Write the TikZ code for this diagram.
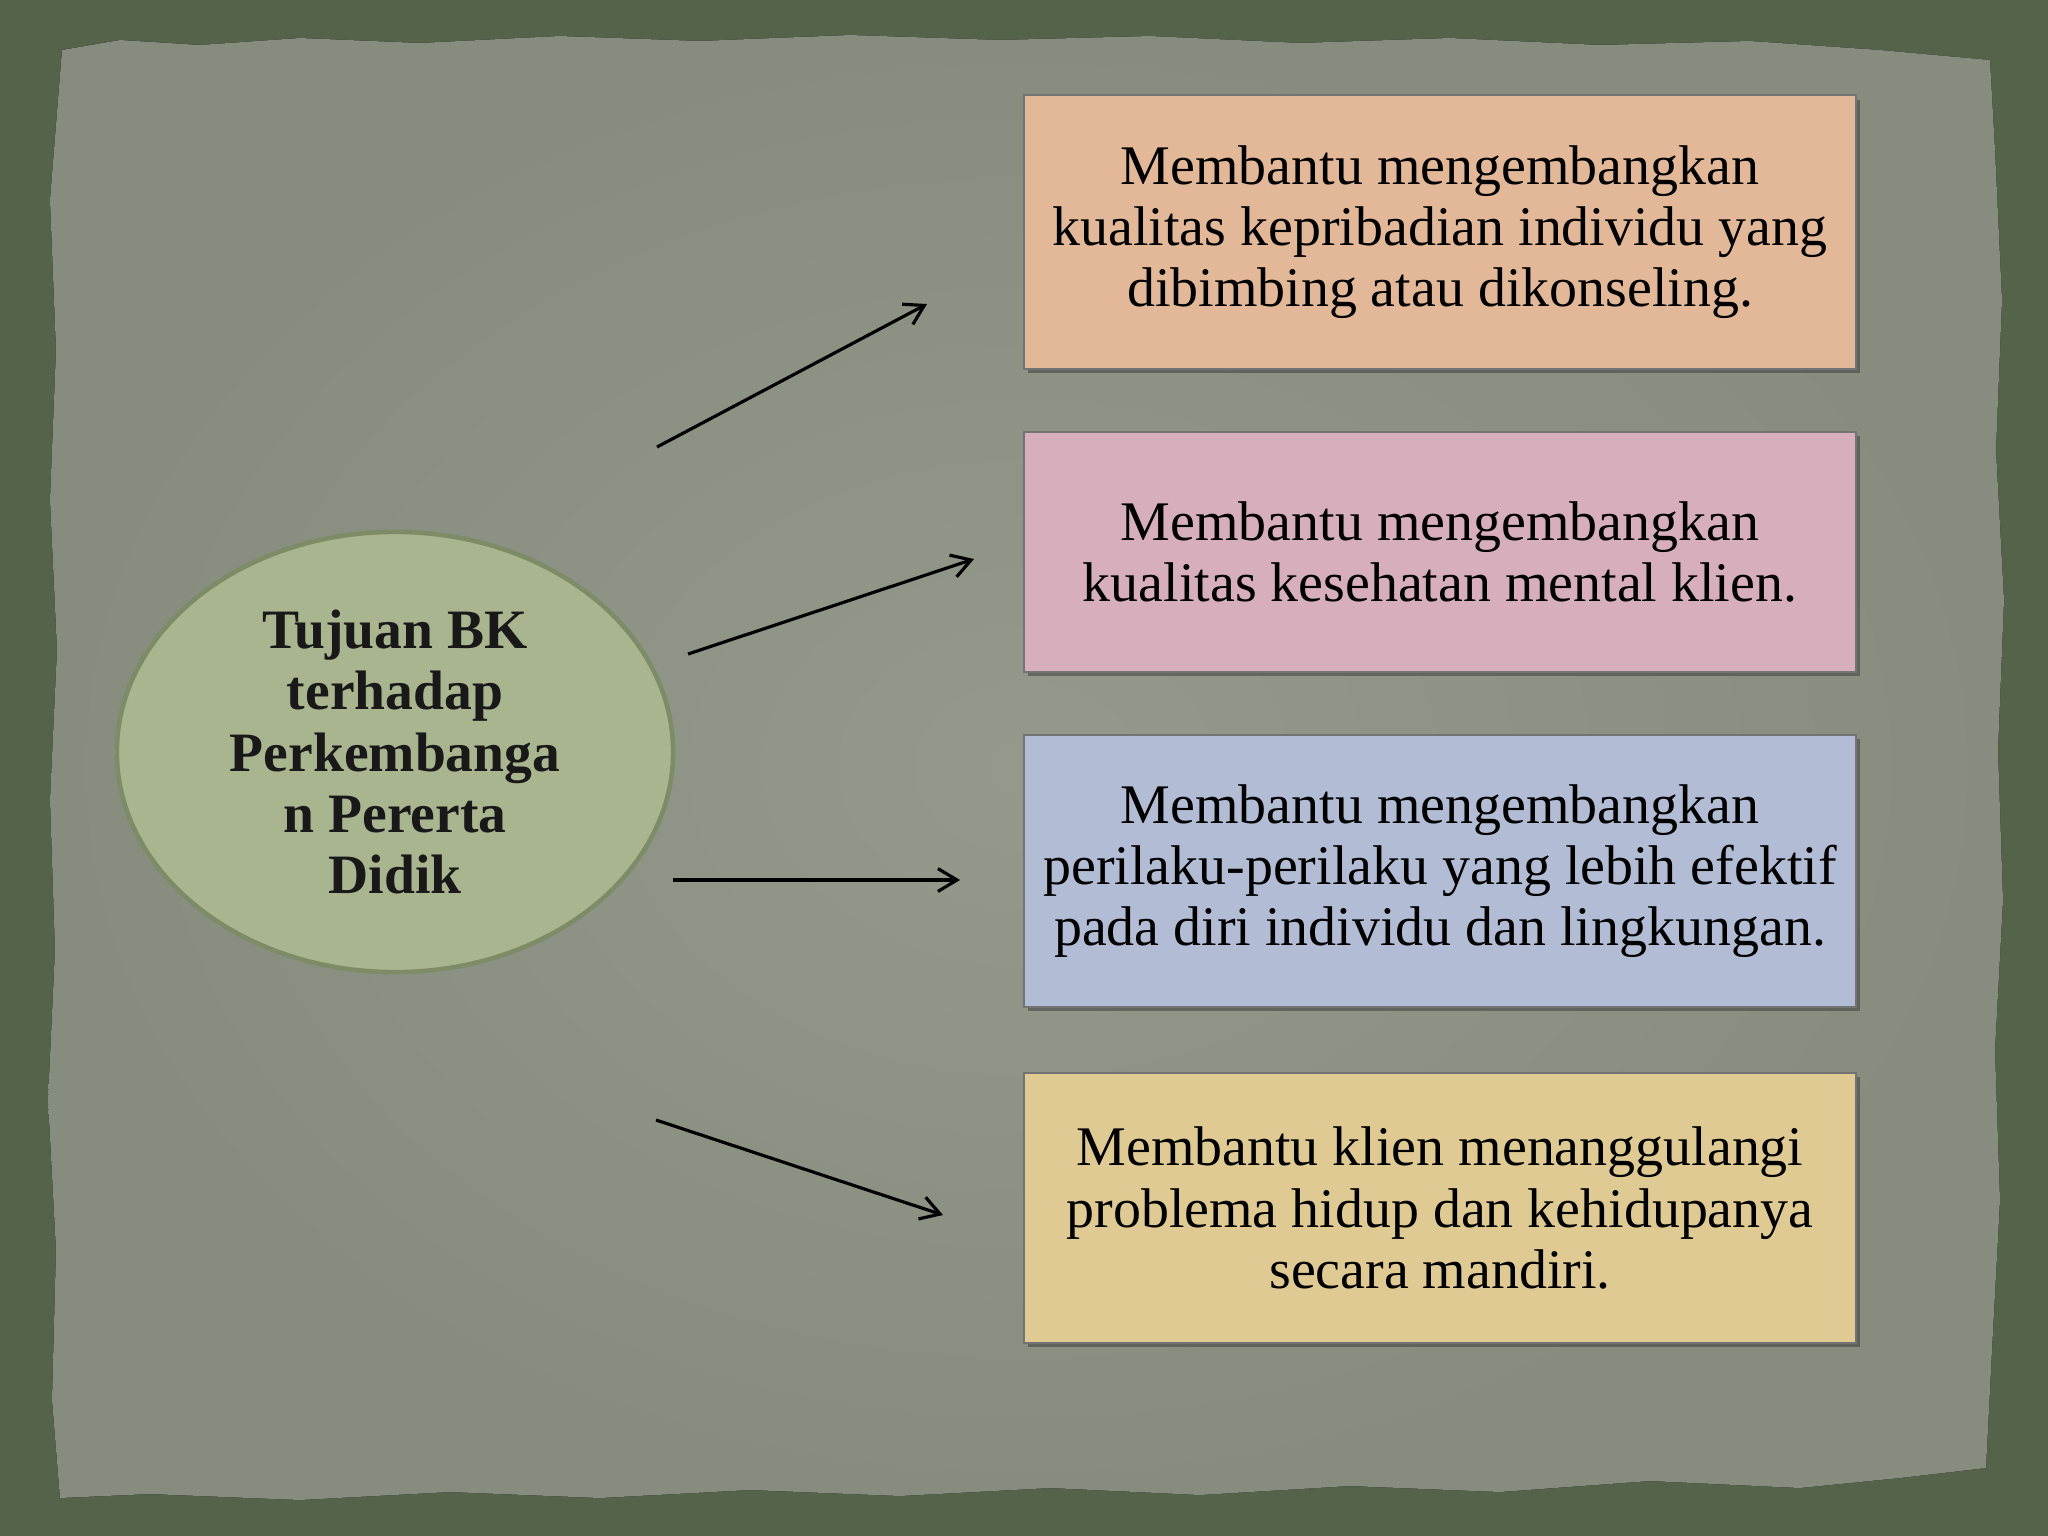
\documentclass[tikz,border=0pt]{standalone}
\usepackage{fontspec}
\setmainfont{Liberation Serif}
\usetikzlibrary{arrows.meta,shadows,shapes.geometric}

\definecolor{latar}{HTML}{55634A}
\definecolor{kertas}{HTML}{868D7E}
\definecolor{kertasterang}{HTML}{939A8B}
\definecolor{elips}{HTML}{A8B58F}
\definecolor{elipsgaris}{HTML}{7D8B67}
\definecolor{oranye}{HTML}{E2B898}
\definecolor{merahmuda}{HTML}{D7AEBC}
\definecolor{biru}{HTML}{B2BDD5}
\definecolor{kuning}{HTML}{E0CA94}

\begin{document}
\begin{tikzpicture}[x=0.01cm, y=-0.01cm,
	kotak/.style={draw=black!55, line width=0.6pt, minimum width=8.31cm, align=center,
		font=\fontsize{15.9}{17.4}\selectfont,
		drop shadow={shadow xshift=1.2pt, shadow yshift=-1.2pt, opacity=0.55, fill=black!75}},
	tujuan/.style={ellipse, draw=elipsgaris, line width=1.3pt, fill=elips, minimum width=5.56cm,
		minimum height=4.4cm, align=center, text=black!90,
		font=\bfseries\fontsize{15.8}{17.4}\selectfont},
	panah/.style={-{Straight Barb[length=5.4pt,width=6.5pt]}, line width=0.9pt}]
			%%%%% START %%%%%
			
			\useasboundingbox (0, 0) rectangle (2048, 1536);
			\fill[latar] (0, 0) rectangle (2048, 1536);
			
			% kertas sobek
			\fill[inner color=kertasterang, outer color=kertas]
				(62, 50) -- (120, 40) -- (200, 45) -- (300, 38) -- (420, 43) -- (560, 36)
				-- (700, 41) -- (850, 35) -- (1000, 40) -- (1150, 36) -- (1300, 43) -- (1450, 38)
				-- (1600, 45) -- (1750, 41) -- (1880, 50) -- (1990, 60)
				-- (1995, 150) -- (2002, 300) -- (1996, 450) -- (2004, 600) -- (1998, 750)
				-- (2003, 900) -- (1995, 1050) -- (2000, 1200) -- (1992, 1350) -- (1986, 1468)
				-- (1900, 1478) -- (1800, 1488) -- (1650, 1481) -- (1500, 1492) -- (1350, 1486)
				-- (1200, 1495) -- (1050, 1488) -- (900, 1496) -- (750, 1490) -- (600, 1498)
				-- (450, 1492) -- (300, 1500) -- (150, 1494) -- (60, 1498)
				-- (52, 1400) -- (56, 1250) -- (48, 1100) -- (55, 950) -- (50, 800)
				-- (57, 650) -- (50, 500) -- (56, 350) -- (50, 200) -- cycle;
			
			\node[tujuan] (bk) at (395, 752) {Tujuan BK\\terhadap\\Perkembanga\\n Pererta\\Didik};
			
			\node[kotak, fill=oranye, minimum height=2.73cm] (k1) at (1440, 232)
				{Membantu mengembangkan\\kualitas kepribadian individu yang\\dibimbing atau dikonseling.};
			\node[kotak, fill=merahmuda, minimum height=2.40cm] (k2) at (1440, 552)
				{Membantu mengembangkan\\kualitas kesehatan mental klien.};
			\node[kotak, fill=biru, minimum height=2.72cm] (k3) at (1440, 871)
				{Membantu mengembangkan\\perilaku-perilaku yang lebih efektif\\pada diri individu dan lingkungan.};
			\node[kotak, fill=kuning, minimum height=2.70cm] (k4) at (1440, 1208)
				{Membantu klien menanggulangi\\problema hidup dan kehidupanya\\secara mandiri.};
			
			% ujung panah
			\coordinate (p1a) at (657, 447);
			\coordinate (p1b) at (927, 304);
			\coordinate (p2a) at (688, 654);
			\coordinate (p2b) at (974, 559);
			\coordinate (p3a) at (673, 880);
			\coordinate (p3b) at (960, 880);
			\coordinate (p4a) at (656, 1120);
			\coordinate (p4b) at (943, 1215);
			
			\draw[panah] (p1a) -- (p1b);
			\draw[panah] (p2a) -- (p2b);
			\draw[panah] (p3a) -- (p3b);
			\draw[panah] (p4a) -- (p4b);
			
			%%%%% END %%%%%
\end{tikzpicture}
\end{document}
